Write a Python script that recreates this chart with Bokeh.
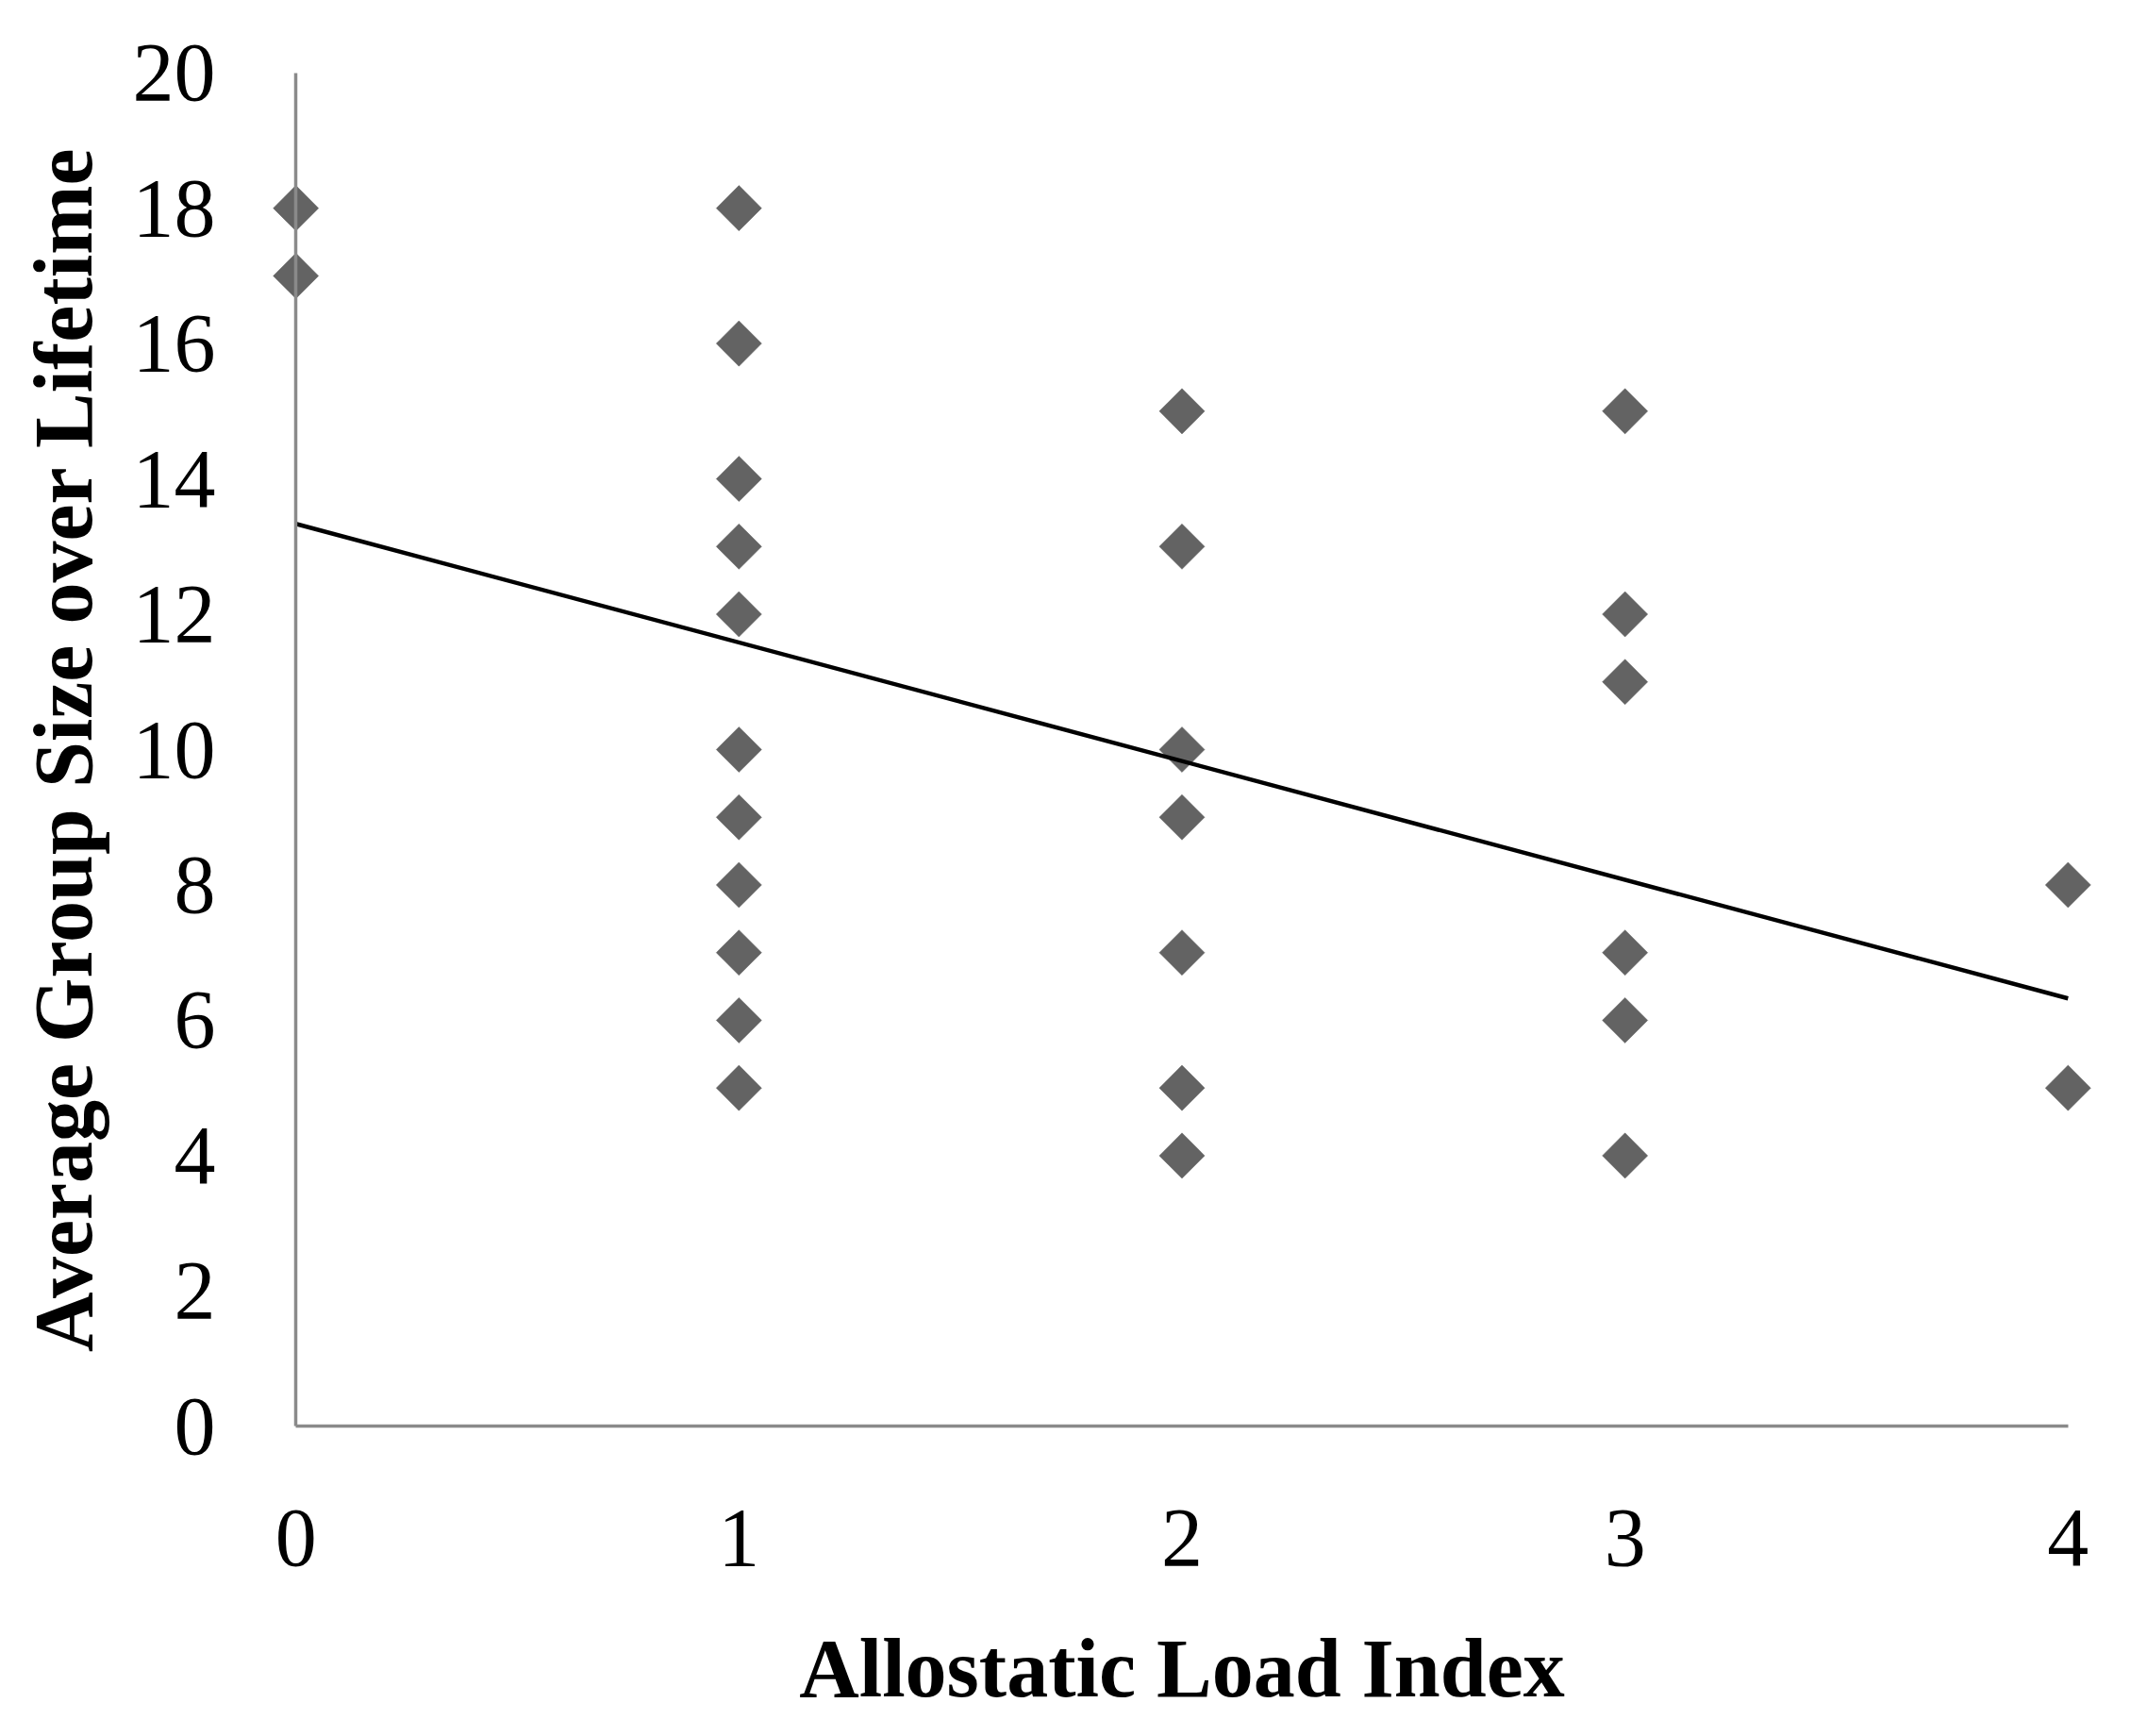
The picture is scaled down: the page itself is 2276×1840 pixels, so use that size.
import numpy as np
from bokeh.plotting import figure
from bokeh.models import Range1d, FixedTicker, LinearAxis
from bokeh.embed import file_html
from bokeh.resources import INLINE

# Allostatic load index and average group size
ali = [0, 0,
       1, 1, 1, 1, 1, 1, 1, 1, 1, 1, 1,
       2, 2, 2, 2, 2, 2, 2,
       3, 3, 3, 3, 3, 3,
       4, 4]
group_size = [18, 17,
              18, 16, 14, 13, 12, 10, 9, 8, 7, 6, 5,
              15, 13, 10, 9, 7, 5, 4,
              15, 12, 11, 7, 6, 4,
              8, 5]
x_ticks = [0, 1, 2, 3, 4]
y_ticks = [0, 2, 4, 6, 8, 10, 12, 14, 16, 18, 20]

FONT = "Liberation Serif"
AXIS_GRAY = "#8a8a8a"

p = figure(width=2260, height=1824, output_backend="svg", toolbar_location=None,
           x_range=Range1d(-0.06, 4.06), y_range=Range1d(-0.4, 20.4),
           min_border_left=285, min_border_right=40,
           min_border_top=48, min_border_bottom=284)
p.outline_line_color = None
p.xgrid.visible = False
p.ygrid.visible = False
p.background_fill_color = "white"
p.border_fill_color = "white"

# axis lines drawn at x=0 and y=0 (inside the padded frame)
xline = LinearAxis(fixed_location=0, bounds=(0, 4), ticker=FixedTicker(ticks=[]),
                   axis_line_color=AXIS_GRAY, axis_line_width=3.5,
                   major_tick_line_color=None, minor_tick_line_color=None,
                   major_label_text_font_size="0px")
yline = LinearAxis(fixed_location=0, bounds=(0, 20), ticker=FixedTicker(ticks=[]),
                   axis_line_color=AXIS_GRAY, axis_line_width=3.5,
                   major_tick_line_color=None, minor_tick_line_color=None,
                   major_label_text_font_size="0px")
p.add_layout(xline, "below")
p.add_layout(yline, "left")

# trend line (least squares fit of the data)
slope, intercept = np.polyfit(ali, group_size, 1)
tx = [min(x_ticks), max(x_ticks)]
ty = [intercept + slope * v for v in tx]

p.rect(ali, group_size, width=34, height=34, width_units="screen",
       height_units="screen", angle=np.pi / 4,
       fill_color="#636363", line_color="#636363", line_width=0.5)
p.line(tx, ty, line_color="black", line_width=4.5)

# label axes (at frame edges, no lines)
for ax in (p.xaxis[0], p.yaxis[0]):
    ax.axis_line_color = None
    ax.major_tick_line_color = None
    ax.minor_tick_line_color = None
    ax.major_tick_out = 0
    ax.major_tick_in = 0
    ax.minor_tick_out = 0
    ax.minor_tick_in = 0
    ax.major_label_text_font = FONT
    ax.major_label_text_font_size = "88px"
    ax.major_label_text_color = "black"
    ax.axis_label_text_font = FONT
    ax.axis_label_text_font_size = "88px"
    ax.axis_label_text_font_style = "bold"
    ax.axis_label_text_color = "black"

p.xaxis[0].ticker = FixedTicker(ticks=x_ticks)
p.yaxis[0].ticker = FixedTicker(ticks=y_ticks)
p.xaxis[0].axis_label = "Allostatic Load Index"
p.yaxis[0].axis_label = "Average Group Size over Lifetime"
p.xaxis[0].major_label_standoff = 60
p.yaxis[0].major_label_standoff = 57
p.xaxis[0].axis_label_standoff = 58
p.yaxis[0].axis_label_standoff = 22

open("out.html", "w").write(file_html(p, INLINE))
